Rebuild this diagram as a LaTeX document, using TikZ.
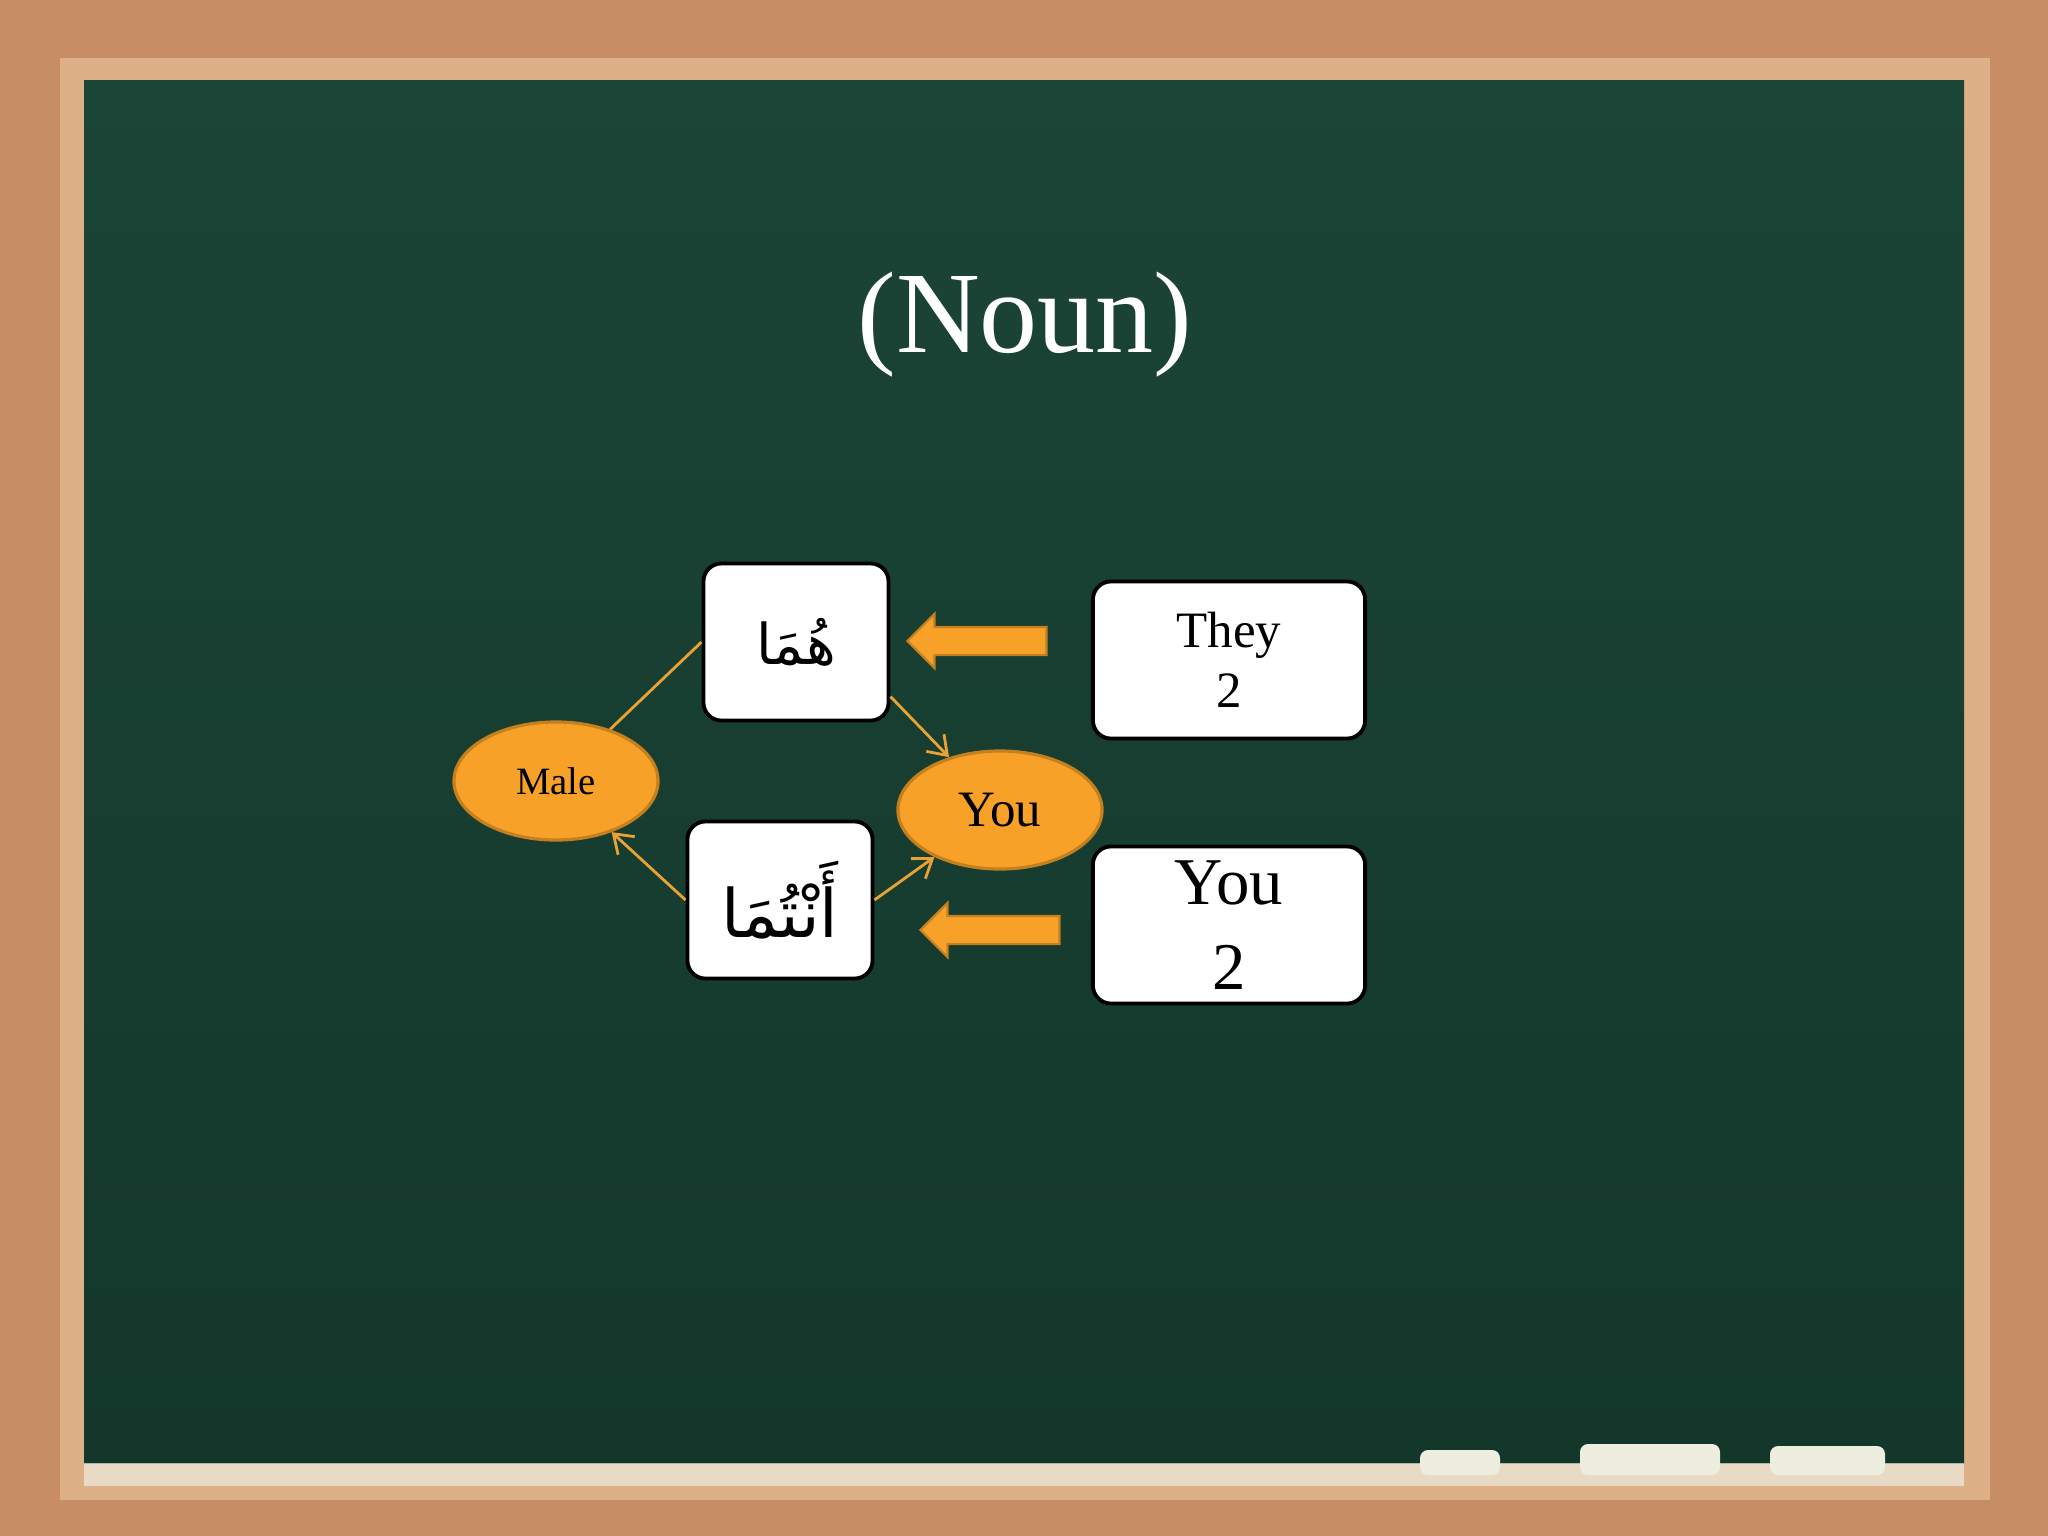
\documentclass[tikz,border=0pt]{standalone}
\usepackage{fontspec}
\setmainfont{Liberation Serif}
\newfontfamily\arabicfont[Script=Arabic]{DejaVu Sans}
\TeXXeTstate=1
\usetikzlibrary{shapes.geometric,shapes.arrows,arrows.meta}
\definecolor{wood}{HTML}{C78E66}
\definecolor{woodlight}{HTML}{DDB088}
\definecolor{boardtop}{HTML}{1B4537}
\definecolor{boardbot}{HTML}{13372B}
\definecolor{ovalfill}{HTML}{F7A128}
\definecolor{ovalline}{HTML}{C47F1E}
\definecolor{linkcol}{HTML}{E9A233}
\definecolor{chalk}{HTML}{EDEDE0}

\begin{document}
\begin{tikzpicture}
  [x=0.01cm,y=-0.01cm,
   box/.style={draw=black,line width=1.1pt,fill=white,rounded corners=0.18cm,
     minimum width=1.85cm,minimum height=1.57cm,inner sep=0pt,align=center},
   wide/.style={box,minimum width=2.72cm},
   oval/.style={ellipse,draw=ovalline,line width=0.9pt,fill=ovalfill,
     minimum width=2.04cm,minimum height=1.18cm,inner sep=0pt},
   blockarrow/.style={single arrow,shape border rotate=180,fill=ovalfill,draw=ovalline,
     line width=0.6pt,inner xsep=0pt,inner ysep=0.13cm,minimum height=1.39cm,
     single arrow head extend=0.13cm},
   link/.style={draw=linkcol,line width=0.8pt},
   >={Straight Barb[length=5pt,width=7pt]}]
  \useasboundingbox (0,0) rectangle (2048,1536);
  \fill[wood] (0,0) rectangle (2048,1536);
  \fill[woodlight] (60,58) rectangle (1990,1500);
  \shade[top color=boardtop,bottom color=boardbot] (84,80) rectangle (1964,1463);
  \fill[chalk,opacity=.7] (84,1463) rectangle (1964,1486);
  \fill[chalk,rounded corners=0.08cm] (1420,1450) rectangle (1500,1475);
  \fill[chalk,rounded corners=0.08cm] (1580,1444) rectangle (1720,1475);
  \fill[chalk,rounded corners=0.08cm] (1770,1446) rectangle (1885,1475);

  \node[text=white,font=\fontsize{33}{40}\selectfont] (title) at (1025,325) {(Noun)};

  \node[box] (huma) at (796,642) {\arabicfont\fontsize{16}{20}\selectfont\beginR هُمَا\endR};
  \node[box] (antuma) at (780,900) {\arabicfont\fontsize{19}{23}\selectfont\beginR أَنْتُمَا\endR};
  \node[wide,font=\fontsize{14.5}{17}\selectfont] (they) at (1229,660) {They\\2};
  \node[wide,font=\fontsize{19}{24}\selectfont] (youtwo) at (1229,925) {You\\2};
  \node[oval,font=\fontsize{11}{13}\selectfont] (male) at (556,781) {Male};
  \node[oval,font=\fontsize{14.5}{17}\selectfont] (you) at (1000,810) {You};
  \node[blockarrow] (arr1) at (984,641) {};
  \node[blockarrow] (arr2) at (997,930) {};

  \draw[link] (huma.west) -- (male);
  \draw[link,->] (huma.330) -- (you);
  \draw[link,->] (antuma.west) -- (male);
  \draw[link,->] (antuma.east) -- (you);
\end{tikzpicture}
\end{document}
